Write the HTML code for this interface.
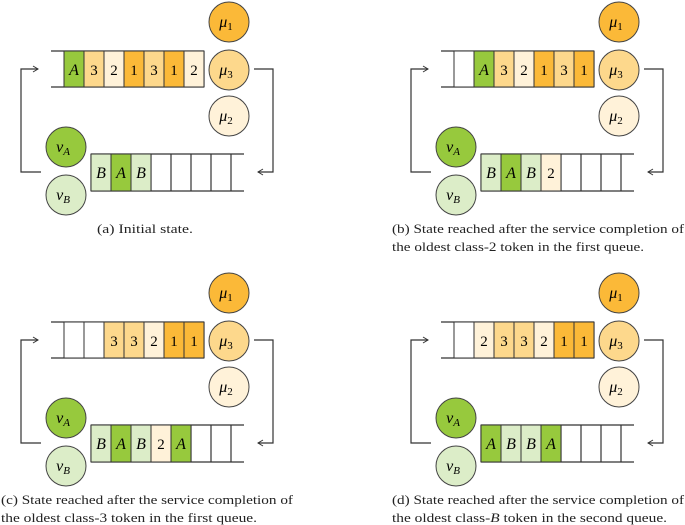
<!DOCTYPE html>
<html><head><meta charset="utf-8"><style>
html,body{margin:0;padding:0;background:#fff}
svg{display:block}
text{font-family:"Liberation Serif",serif}
.cap{font-size:12.5px;fill:#222}
.n{font-size:15px;text-anchor:middle}
.i{font-size:16px;font-style:italic;text-anchor:middle}
.l{stroke:#333;stroke-width:1.2;fill:none}
.c{stroke:#444;stroke-width:1}
</style></head><body>
<svg width="685" height="525" viewBox="0 0 685 525" xmlns="http://www.w3.org/2000/svg">
<defs>
<marker id="ar" markerWidth="8" markerHeight="8" refX="6" refY="4" orient="auto" markerUnits="userSpaceOnUse">
<path d="M1,1 L6,4 L1,7" fill="none" stroke="#333" stroke-width="1"/></marker>
<g id="base">
<polyline class="l" points="41,172 21,172 21,69 38,69" marker-end="url(#ar)"/>
<polyline class="l" points="254,69 273,69 273,172 258,172" marker-end="url(#ar)"/>
<circle cx="229" cy="22" r="20" fill="#fbb938" class="c"/>
<text class="i" x="226" y="27">μ<tspan font-size="11" font-style="normal" dy="3">1</tspan></text>
<circle cx="229" cy="70" r="20" fill="#fdd88c" class="c"/>
<text class="i" x="226" y="75">μ<tspan font-size="11" font-style="normal" dy="3">3</tspan></text>
<circle cx="229" cy="116" r="20" fill="#fff2d9" class="c"/>
<text class="i" x="226" y="121">μ<tspan font-size="11" font-style="normal" dy="3">2</tspan></text>
<circle cx="66" cy="147" r="20" fill="#97c93d" class="c"/>
<text class="i" x="63" y="152">ν<tspan font-size="11" dy="3">A</tspan></text>
<circle cx="66" cy="195" r="20" fill="#dcedc8" class="c"/>
<text class="i" x="63" y="200">ν<tspan font-size="11" dy="3">B</tspan></text>
<line class="l" x1="51" y1="51" x2="204" y2="51"/>
<line class="l" x1="51" y1="87" x2="204" y2="87"/>
<line class="l" x1="204" y1="51" x2="204" y2="87"/>
<line class="l" x1="91" y1="154" x2="244" y2="154"/>
<line class="l" x1="91" y1="191" x2="244" y2="191"/>
<line class="l" x1="91" y1="154" x2="91" y2="191"/>
<g class="l" stroke-width="1">
<line x1="111" y1="154" x2="111" y2="191"/><line x1="131" y1="154" x2="131" y2="191"/>
<line x1="151" y1="154" x2="151" y2="191"/><line x1="171" y1="154" x2="171" y2="191"/>
<line x1="191" y1="154" x2="191" y2="191"/><line x1="211" y1="154" x2="211" y2="191"/>
<line x1="231" y1="154" x2="231" y2="191"/>
</g>
</g>
</defs>

<!-- (a) -->
<g>
<use href="#base"/>
<g stroke="#333" stroke-width="1">
<rect x="64" y="51" width="20" height="36" fill="#97c93d"/>
<rect x="84" y="51" width="20" height="36" fill="#fdd88c"/>
<rect x="104" y="51" width="20" height="36" fill="#fff2d9"/>
<rect x="124" y="51" width="20" height="36" fill="#fbb938"/>
<rect x="144" y="51" width="20" height="36" fill="#fdd88c"/>
<rect x="164" y="51" width="20" height="36" fill="#fbb938"/>
<rect x="184" y="51" width="20" height="36" fill="#fff2d9"/>
<rect x="91" y="154" width="20" height="37" fill="#dcedc8"/>
<rect x="111" y="154" width="20" height="37" fill="#97c93d"/>
<rect x="131" y="154" width="20" height="37" fill="#dcedc8"/>
</g>
<text class="i" x="74" y="75">A</text><text class="n" x="94" y="75">3</text><text class="n" x="114" y="75">2</text><text class="n" x="134" y="75">1</text><text class="n" x="154" y="75">3</text><text class="n" x="174" y="75">1</text><text class="n" x="194" y="75">2</text>
<text class="i" x="101" y="178">B</text><text class="i" x="121" y="178">A</text><text class="i" x="141" y="178">B</text>
<text class="cap" x="97" y="233" textLength="96" lengthAdjust="spacingAndGlyphs">(a) Initial state.</text>
</g>

<!-- (b) -->
<g transform="translate(390,0)">
<use href="#base"/>
<g stroke="#333" stroke-width="1">
<rect x="64" y="51" width="20" height="36" fill="#fff"/>
<rect x="84" y="51" width="20" height="36" fill="#97c93d"/>
<rect x="104" y="51" width="20" height="36" fill="#fdd88c"/>
<rect x="124" y="51" width="20" height="36" fill="#fff2d9"/>
<rect x="144" y="51" width="20" height="36" fill="#fbb938"/>
<rect x="164" y="51" width="20" height="36" fill="#fdd88c"/>
<rect x="184" y="51" width="20" height="36" fill="#fbb938"/>
<rect x="91" y="154" width="20" height="37" fill="#dcedc8"/>
<rect x="111" y="154" width="20" height="37" fill="#97c93d"/>
<rect x="131" y="154" width="20" height="37" fill="#dcedc8"/>
<rect x="151" y="154" width="20" height="37" fill="#fff2d9"/>
</g>
<text class="i" x="94" y="75">A</text><text class="n" x="114" y="75">3</text><text class="n" x="134" y="75">2</text><text class="n" x="154" y="75">1</text><text class="n" x="174" y="75">3</text><text class="n" x="194" y="75">1</text>
<text class="i" x="101" y="178">B</text><text class="i" x="121" y="178">A</text><text class="i" x="141" y="178">B</text><text class="n" x="161" y="178">2</text>
<text class="cap" x="2" y="233" textLength="292" lengthAdjust="spacingAndGlyphs">(b) State reached after the service completion of</text>
<text class="cap" x="2" y="251" textLength="252" lengthAdjust="spacingAndGlyphs">the oldest class-2 token in the first queue.</text>
</g>

<!-- (c) -->
<g transform="translate(0,271)">
<use href="#base"/>
<g stroke="#333" stroke-width="1">
<rect x="64" y="51" width="20" height="36" fill="#fff"/>
<rect x="84" y="51" width="20" height="36" fill="#fff"/>
<rect x="104" y="51" width="20" height="36" fill="#fdd88c"/>
<rect x="124" y="51" width="20" height="36" fill="#fdd88c"/>
<rect x="144" y="51" width="20" height="36" fill="#fff2d9"/>
<rect x="164" y="51" width="20" height="36" fill="#fbb938"/>
<rect x="184" y="51" width="20" height="36" fill="#fbb938"/>
<rect x="91" y="154" width="20" height="37" fill="#dcedc8"/>
<rect x="111" y="154" width="20" height="37" fill="#97c93d"/>
<rect x="131" y="154" width="20" height="37" fill="#dcedc8"/>
<rect x="151" y="154" width="20" height="37" fill="#fff2d9"/>
<rect x="171" y="154" width="20" height="37" fill="#97c93d"/>
</g>
<text class="n" x="114" y="75">3</text><text class="n" x="134" y="75">3</text><text class="n" x="154" y="75">2</text><text class="n" x="174" y="75">1</text><text class="n" x="194" y="75">1</text>
<text class="i" x="101" y="178">B</text><text class="i" x="121" y="178">A</text><text class="i" x="141" y="178">B</text><text class="n" x="161" y="178">2</text><text class="i" x="181" y="178">A</text>
<text class="cap" x="1" y="233" textLength="292" lengthAdjust="spacingAndGlyphs">(c) State reached after the service completion of</text>
<text class="cap" x="1" y="251" textLength="256" lengthAdjust="spacingAndGlyphs">the oldest class-3 token in the first queue.</text>
</g>

<!-- (d) -->
<g transform="translate(390,271)">
<use href="#base"/>
<g stroke="#333" stroke-width="1">
<rect x="64" y="51" width="20" height="36" fill="#fff"/>
<rect x="84" y="51" width="20" height="36" fill="#fff2d9"/>
<rect x="104" y="51" width="20" height="36" fill="#fdd88c"/>
<rect x="124" y="51" width="20" height="36" fill="#fdd88c"/>
<rect x="144" y="51" width="20" height="36" fill="#fff2d9"/>
<rect x="164" y="51" width="20" height="36" fill="#fbb938"/>
<rect x="184" y="51" width="20" height="36" fill="#fbb938"/>
<rect x="91" y="154" width="20" height="37" fill="#97c93d"/>
<rect x="111" y="154" width="20" height="37" fill="#dcedc8"/>
<rect x="131" y="154" width="20" height="37" fill="#dcedc8"/>
<rect x="151" y="154" width="20" height="37" fill="#97c93d"/>
</g>
<text class="n" x="94" y="75">2</text><text class="n" x="114" y="75">3</text><text class="n" x="134" y="75">3</text><text class="n" x="154" y="75">2</text><text class="n" x="174" y="75">1</text><text class="n" x="194" y="75">1</text>
<text class="i" x="101" y="178">A</text><text class="i" x="121" y="178">B</text><text class="i" x="141" y="178">B</text><text class="i" x="161" y="178">A</text>
<text class="cap" x="2" y="233" textLength="292" lengthAdjust="spacingAndGlyphs">(d) State reached after the service completion of</text>
<text class="cap" x="2" y="251" textLength="275" lengthAdjust="spacingAndGlyphs">the oldest class-<tspan font-style="italic">B</tspan> token in the second queue.</text>
</g>
</svg>
</body></html>
